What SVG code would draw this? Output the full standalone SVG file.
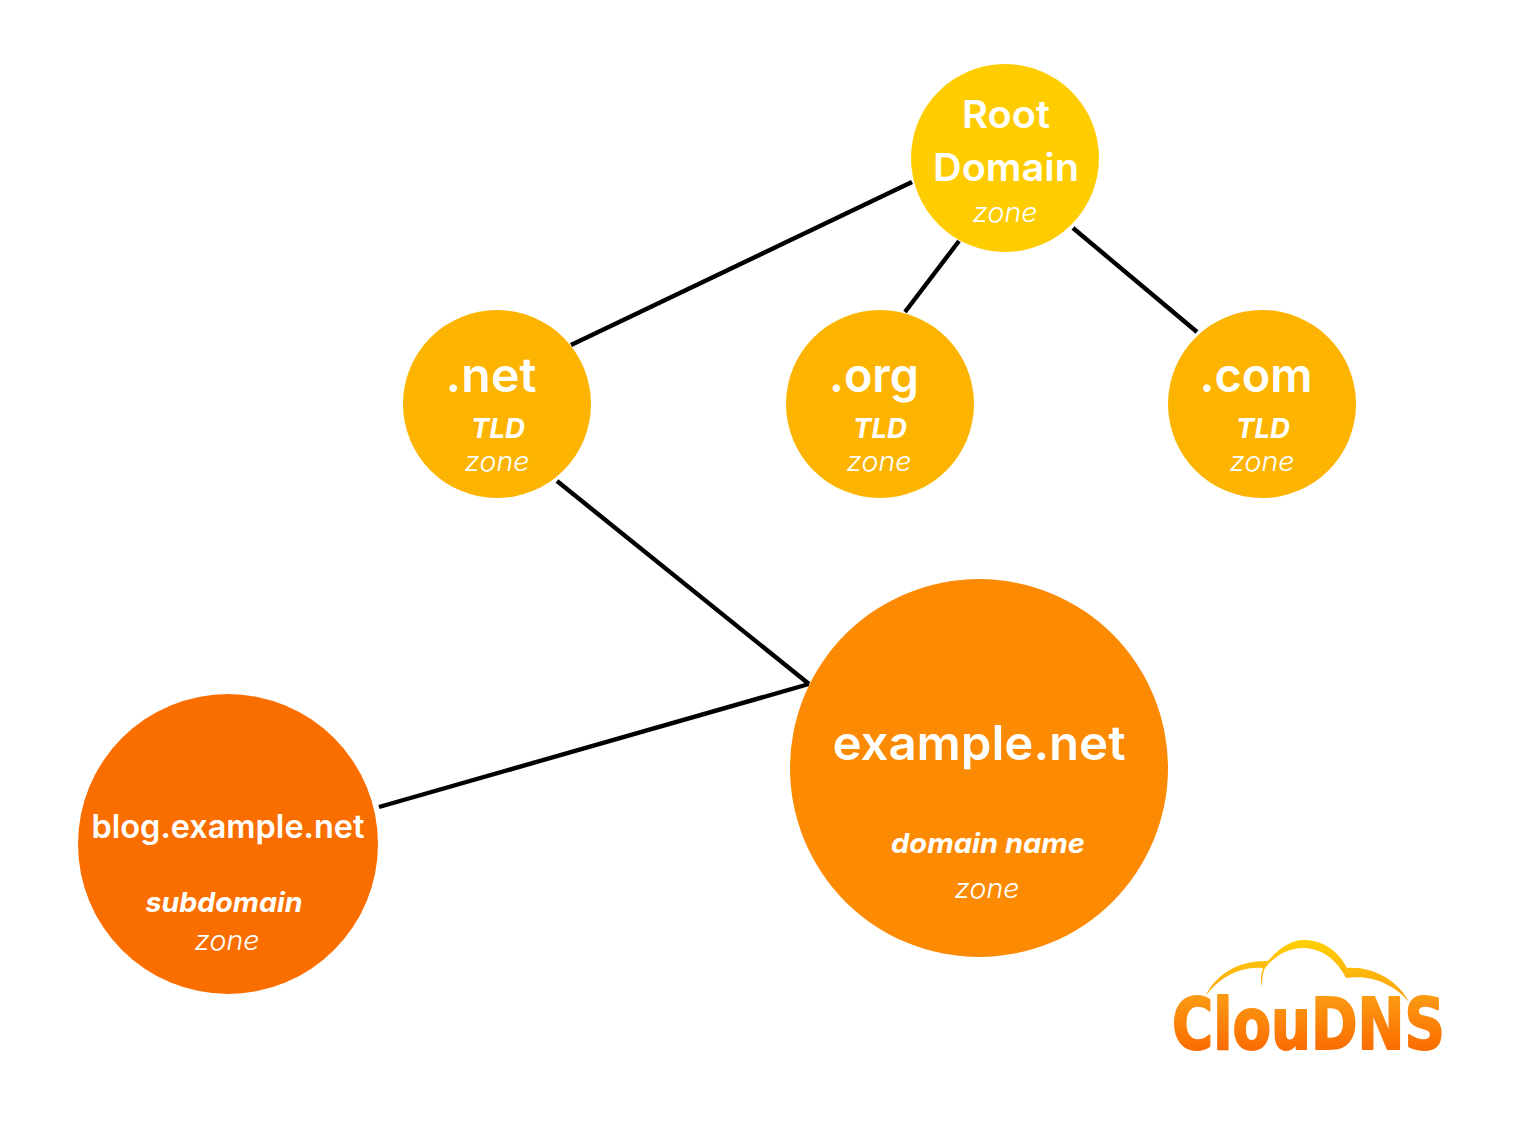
<svg xmlns="http://www.w3.org/2000/svg" width="1536" height="1124" viewBox="0 0 1536 1124">
<style>
text{font-family:"Inter","Open Sans",sans-serif;fill:#fff;text-anchor:middle}
.b{font-weight:600}
.s{font-weight:700;font-style:italic;font-size:27.5px}
.z{font-style:italic;font-weight:300;font-size:27.5px}
.c{stroke:#000;stroke-width:4.4;fill:none}
</style>
<defs>
<linearGradient id="lg" gradientUnits="userSpaceOnUse" x1="0" y1="940" x2="0" y2="1002"><stop offset="0" stop-color="#ffd000"/><stop offset="0.5" stop-color="#fdb90a"/><stop offset="1" stop-color="#fb9a12"/></linearGradient>
<linearGradient id="lt" gradientUnits="userSpaceOnUse" x1="0" y1="996" x2="0" y2="1052"><stop offset="0" stop-color="#fb9a12"/><stop offset="1" stop-color="#fb6a00"/></linearGradient>
</defs>
<rect width="1536" height="1124" fill="#fff"/>
<g id="connectors">
<path class="c" d="M912 182L571 345"/>
<path class="c" d="M959 241L905 312"/>
<path class="c" d="M1073 228L1197 332"/>
<path class="c" d="M557 481L809 684"/>
<path class="c" d="M809 684L379 807"/>
</g>
<g id="root"><circle cx="1005" cy="158" r="94" fill="#ffcc00"/>
<text class="b" x="1006" y="128" font-size="38" textLength="88" lengthAdjust="spacingAndGlyphs">Root</text>
<text class="b" x="1006" y="181" font-size="38" textLength="146" lengthAdjust="spacingAndGlyphs">Domain</text>
<text class="z" x="1005" y="222" textLength="65" lengthAdjust="spacingAndGlyphs">zone</text></g>
<g id="net"><circle cx="497" cy="404" r="94" fill="#fdb400"/>
<text class="b" x="491" y="392" font-size="48" textLength="91" lengthAdjust="spacingAndGlyphs">.net</text>
<text class="s" x="498" y="438" textLength="54" lengthAdjust="spacingAndGlyphs">TLD</text>
<text class="z" x="497" y="471" textLength="65" lengthAdjust="spacingAndGlyphs">zone</text></g>
<g id="org"><circle cx="880" cy="404" r="94" fill="#fdb400"/>
<text class="b" x="874" y="392" font-size="48" textLength="90" lengthAdjust="spacingAndGlyphs">.org</text>
<text class="s" x="880" y="438" textLength="54" lengthAdjust="spacingAndGlyphs">TLD</text>
<text class="z" x="879" y="471" textLength="65" lengthAdjust="spacingAndGlyphs">zone</text></g>
<g id="com"><circle cx="1262" cy="404" r="94" fill="#fdb400"/>
<text class="b" x="1256" y="392" font-size="48" textLength="113" lengthAdjust="spacingAndGlyphs">.com</text>
<text class="s" x="1263" y="438" textLength="54" lengthAdjust="spacingAndGlyphs">TLD</text>
<text class="z" x="1262" y="471" textLength="65" lengthAdjust="spacingAndGlyphs">zone</text></g>
<g id="example"><circle cx="979" cy="768" r="189" fill="#fc8a03"/>
<text class="b" x="979" y="760" font-size="48" textLength="293" lengthAdjust="spacingAndGlyphs">example.net</text>
<text class="s" x="988" y="853" textLength="194" lengthAdjust="spacingAndGlyphs">domain name</text>
<text class="z" x="987" y="898" textLength="65" lengthAdjust="spacingAndGlyphs">zone</text></g>
<g id="blog"><circle cx="228" cy="844" r="150" fill="#fa6e00"/>
<text class="b" x="228" y="838" font-size="32.5" textLength="273" lengthAdjust="spacingAndGlyphs">blog.example.net</text>
<text class="s" x="224" y="912" textLength="157" lengthAdjust="spacingAndGlyphs">subdomain</text>
<text class="z" x="227" y="950" textLength="65" lengthAdjust="spacingAndGlyphs">zone</text></g>
<g id="logo">
<path d="M1205 997C1215 975 1238 960 1268 961C1280 947 1292 940 1303 940C1322 940 1338 950 1347 968C1372 966 1398 980 1409 1002C1395 985 1372 974 1346 978C1336 958 1320 948 1303 948C1285 948 1270 960 1264 970C1262 976 1262 982 1262 987C1260 980 1261 974 1263 968C1240 966 1218 978 1205 997Z" fill="url(#lg)"/>
<text x="1308.5" y="1049" font-size="72" font-weight="700" textLength="273" lengthAdjust="spacingAndGlyphs" style="font-family:'DejaVu Sans',sans-serif;fill:url(#lt);stroke:url(#lt);stroke-width:2;stroke-linejoin:round">ClouDNS</text>
</g>
</svg>
